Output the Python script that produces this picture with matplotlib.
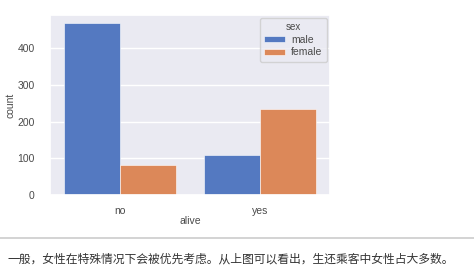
import numpy as np
import matplotlib
matplotlib.use("Agg")
import matplotlib.pyplot as plt
import seaborn as sns
from matplotlib.lines import Line2D

# titanic counts by survival and sex
alive = ["no", "yes"]
sex = ["male", "female"]
male_counts = [468, 109]
female_counts = [81, 233]
caption = "一般，女性在特殊情况下会被优先考虑。从上图可以看出，生还乘客中女性占大多数。"

sns.set_theme(style="darkgrid", palette="muted")
plt.rcParams['font.family'] = ['Liberation Sans', 'DejaVu Sans']

fig = plt.figure(figsize=(4.74, 2.72), dpi=100)
ax = fig.add_axes([50 / 474, 1 - 195 / 272, 280 / 474, 180 / 272])

bar_colors = ["#5479c1", "#dc8859"]
x = np.arange(len(alive))
w = 0.4
ax.bar(x - w / 2, male_counts, w, color=bar_colors[0], label=sex[0],
       edgecolor="white", linewidth=0.4)
ax.bar(x + w / 2, female_counts, w, color=bar_colors[1], label=sex[1],
       edgecolor="white", linewidth=0.4)

ax.set_xlim(-0.5, 1.5)
ax.set_ylim(0, 490)
ax.set_xticks(x)
ax.set_xticklabels(alive)
ax.set_yticks([0, 100, 200, 300, 400])
ax.tick_params(axis="y", labelsize=7.5, colors="#4a4a4a", pad=5)
ax.tick_params(axis="x", labelsize=7.5, colors="#4a4a4a", pad=2)
ax.set_xlabel("alive", fontsize=7.5, color="#4a4a4a", labelpad=0)
ax.set_ylabel("count", fontsize=7.5, color="#4a4a4a", labelpad=1)
ax.grid(axis="x", visible=False)

leg = ax.legend(title="sex", loc="upper right", fontsize=7.5,
                title_fontsize=7, handlelength=2.0, handleheight=0.5,
                borderpad=0.4, labelspacing=0.25, handletextpad=0.6,
                borderaxespad=0.3)
for t in leg.get_texts():
    t.set_color("#4a4a4a")
leg.get_title().set_color("#4a4a4a")

# separator line and caption below the chart
fig.add_artist(Line2D([0, 1], [1 - 238 / 272, 1 - 238 / 272],
                      color="#cccccc", linewidth=1.2))
fig.text(8 / 474, 1 - 259 / 272, caption, fontsize=8.5, color="#333333",
         va="center", ha="left",
         family=['Noto Sans CJK SC', 'DejaVu Sans'])

fig.savefig("out.png", dpi=100, facecolor="white")
